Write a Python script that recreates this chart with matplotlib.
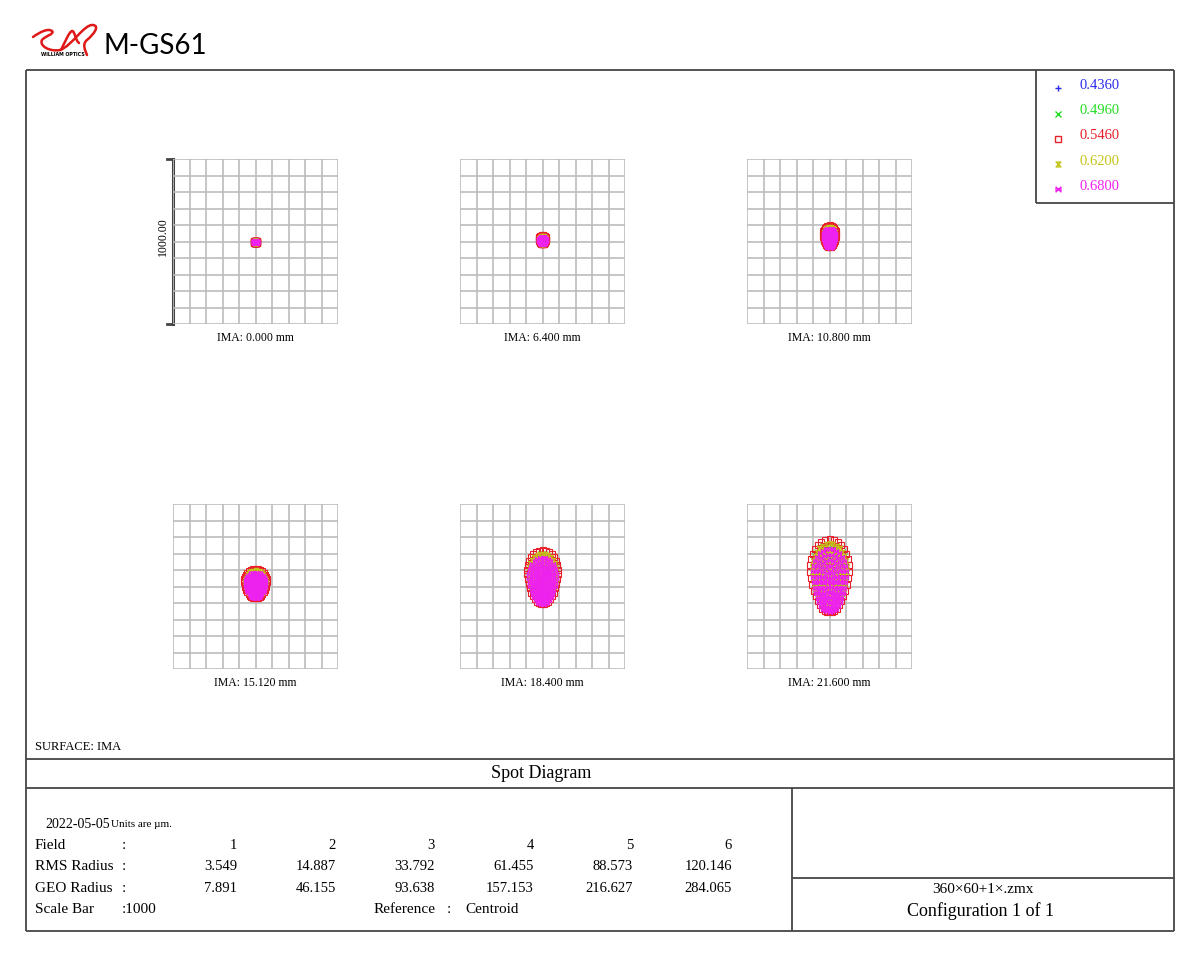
import matplotlib
matplotlib.use('Agg')
import matplotlib.pyplot as plt
import numpy as np
from matplotlib.path import Path
import matplotlib.patches as mpatches

# ---------------- data ----------------
field_labels = ["IMA: 0.000 mm", "IMA: 6.400 mm", "IMA: 10.800 mm",
                "IMA: 15.120 mm", "IMA: 18.400 mm", "IMA: 21.600 mm"]
field_numbers = ["1", "2", "3", "4", "5", "6"]
rms_radius = ["3.549", "14.887", "33.792", "61.455", "88.573", "120.146"]
geo_radius = ["7.891", "46.155", "93.638", "157.153", "216.627", "284.065"]
wavelengths = ["0.4360", "0.4960", "0.5460", "0.6200", "0.6800"]
wave_colors = ["#2b2bea", "#22dd22", "#e8202a", "#c4c41a", "#ee22ee"]

# spot envelopes (micrometres, y up, relative to chief ray)
spot_top = [9, 40, 100, 108, 221, 288]
spot_bottom = [-9, -14, -33, -70, -106, -155]
spot_halfwidth = [9, 22, 39, 69, 94, 117]
# relative size / vertical shift of each wavelength's spot
wave_scale = [0.80, 0.90, 1.00, 0.89, 0.86]
wave_shift = [0.00, 0.02, 0.00, 0.015, -0.04]

scale_bar_um = 1000

W, H = 1200, 955
fig = plt.figure(figsize=(12, 9.55), dpi=100)
bg = fig.add_axes([0, 0, 1, 1])
bg.set_xlim(0, W)
bg.set_ylim(H, 0)
bg.axis('off')

SERIF = ['Liberation Serif', 'DejaVu Serif']
FRAME = '#454545'

def hline(y, x0, x1, lw=1.3):
    bg.plot([x0, x1], [y, y], color=FRAME, lw=lw, solid_capstyle='butt')

def vline(x, y0, y1, lw=1.3):
    bg.plot([x, x], [y0, y1], color=FRAME, lw=lw, solid_capstyle='butt')

# outer frame
hline(70, 26, 1174); hline(931, 26, 1174)
vline(26, 70, 931); vline(1174, 70, 931)
# legend box
vline(1036, 70, 203); hline(203, 1036, 1174)
# bottom table
hline(759, 26, 1174); hline(788, 26, 1174)
vline(792, 788, 931); hline(878, 792, 1174)

# ---------------- header logo ----------------
def curve(verts):
    codes = [Path.MOVETO] + [Path.CURVE4] * (len(verts) - 1)
    return Path(verts, codes)

red = '#e01818'
logo_paths = [
    [(33, 37), (40, 32), (48, 28), (52, 31), (55, 34), (45, 36), (42, 40),
     (39, 46), (50, 52), (60, 50), (72, 46), (84, 24), (93, 25),
     (100, 26), (94, 34), (87, 40), (82, 44), (85, 50), (87, 55)],
    [(61, 50), (65, 42), (69, 32), (72, 31), (75, 31), (75, 40), (79, 43)],
]
for v in logo_paths:
    bg.add_patch(mpatches.PathPatch(curve(v), fill=False, edgecolor=red, lw=1.8,
                                    capstyle='round'))
bg.text(62.5, 54.5, "WILLIAM OPTICS", fontsize=3.4, fontweight='bold',
        ha='center', va='center', color='black', family='DejaVu Sans')
bg.text(104, 46, "M-GS61", fontsize=20, ha='left', va='center', color='black',
        family=['Lato', 'DejaVu Sans'])

# ---------------- spot plots ----------------
grid_x = [173, 460, 747, 173, 460, 747]
grid_y = [159.5, 159.5, 159.5, 504.3, 504.3, 504.3]
G = 165

# hexapolar pupil sampling (ray pattern)
rings = 6
pu, pv = [0.0], [0.0]
for k in range(1, rings + 1):
    n = 6 * k
    th = np.arange(n) * 2 * np.pi / n
    pu.extend((k / rings) * np.cos(th))
    pv.extend((k / rings) * np.sin(th))
pu = np.array(pu); pv = np.array(pv)

hourglass = Path([(-1, 1), (1, 1), (-1, -1), (1, -1), (-1, 1)],
                 [Path.MOVETO, Path.LINETO, Path.LINETO, Path.LINETO, Path.CLOSEPOLY])
bowtie = Path([(-1, -1), (-1, 1), (1, -1), (1, 1), (-1, -1)],
              [Path.MOVETO, Path.LINETO, Path.LINETO, Path.LINETO, Path.CLOSEPOLY])
wave_markers = ['+', 'x', 's', hourglass, bowtie]
wave_ms = [4.0, 3.2, 3.7, 3.0, 3.0]

for i in range(6):
    x0, y0 = grid_x[i], grid_y[i]
    ax = fig.add_axes([x0 / W, 1 - (y0 + G) / H, G / W, G / H])
    ax.set_xlim(-500, 500)
    ax.set_ylim(-500, 500)
    ticks = np.arange(-500, 501, 100)
    ax.vlines(ticks, -500, 500, color='#bcbcbc', lw=1.2, zorder=0)
    ax.hlines(ticks, -500, 500, color='#bcbcbc', lw=1.2, zorder=0)
    for s in ax.spines.values():
        s.set_visible(False)
    ax.set_xticks([]); ax.set_yticks([])
    ax.patch.set_alpha(0)

    top, bot, hw = spot_top[i], spot_bottom[i], spot_halfwidth[i]
    for w in range(5):
        sc = wave_scale[w]
        mid = (top + bot) / 2
        half = (top - bot) / 2
        vv = ((pv + 1) / 2) ** 1.1 * 2 - 1
        yy = (mid + half * vv) * sc + wave_shift[w] * (top - bot)
        xx = hw * sc * pu * (0.78 + 0.22 * pv) / 0.81
        ax.plot(xx, yy, ls='none', marker=wave_markers[w], ms=wave_ms[w],
                mec=wave_colors[w], mfc='none', mew=0.8, zorder=2 + w, clip_on=False)

    label_y = y0 + G + 13.5
    bg.text(x0 + G / 2, label_y, field_labels[i], fontsize=8.5, ha='center',
            va='center', family=SERIF)

# scale bar
sx, sy0, sy1 = 173, grid_y[0], grid_y[0] + G
bg.plot([sx, sx], [sy0, sy1], color='#444444', lw=2.2)
bg.plot([167, sx], [sy0, sy0], color='#444444', lw=2)
bg.plot([167, sx], [sy1, sy1], color='#444444', lw=2)
bg.text(162.5, (sy0 + sy1) / 2 - 5, f"{scale_bar_um:.2f}", rotation=90, fontsize=8.5,
        ha='center', va='center', family=SERIF)

# ---------------- legend ----------------
for w in range(5):
    ly = 87.5 + 25.2 * w
    bg.plot([1058], [ly + 1], ls='none', marker=wave_markers[w], ms=wave_ms[w] + 0.5,
            mec=wave_colors[w], mfc='none', mew=1.0)
    bg.text(1079, ly - 2, wavelengths[w], fontsize=10.5, color=wave_colors[w],
            ha='left', va='center', family=SERIF)

# ---------------- text blocks ----------------
bg.text(35, 747, "SURFACE: IMA", fontsize=9, ha='left', va='center', family=SERIF)
bg.text(541, 773, "Spot Diagram", fontsize=13, ha='center', va='center', family=SERIF)

bg.text(45, 824, "2022-05-05", fontsize=10, ha='left', va='center', family=SERIF)
bg.text(111, 824, "Units are µm.", fontsize=8, ha='left', va='center', family=SERIF)

row_y = [845, 866, 888, 909]
bg.text(35, row_y[0], "Field", fontsize=11, ha='left', va='center', family=SERIF)
bg.text(122, row_y[0], ":", fontsize=11, ha='left', va='center', family=SERIF)
bg.text(35, row_y[1], "RMS Radius", fontsize=11, ha='left', va='center', family=SERIF)
bg.text(122, row_y[1], ":", fontsize=11, ha='left', va='center', family=SERIF)
bg.text(35, row_y[2], "GEO Radius", fontsize=11, ha='left', va='center', family=SERIF)
bg.text(122, row_y[2], ":", fontsize=11, ha='left', va='center', family=SERIF)
bg.text(35, row_y[3], "Scale Bar", fontsize=11, ha='left', va='center', family=SERIF)
bg.text(122, row_y[3], f":{scale_bar_um}", fontsize=11, ha='left', va='center', family=SERIF)
bg.text(374, row_y[3], "Reference", fontsize=11, ha='left', va='center', family=SERIF)
bg.text(447, row_y[3], ":", fontsize=11, ha='left', va='center', family=SERIF)
bg.text(465, row_y[3], "Centroid", fontsize=11, ha='left', va='center', family=SERIF)

col_x = [237, 336, 435, 534, 633, 732]
for j in range(6):
    bg.text(col_x[j], row_y[0], field_numbers[j], fontsize=10.5, ha='right', va='center', family=SERIF)
    bg.text(col_x[j], row_y[1], rms_radius[j], fontsize=10.5, ha='right', va='center', family=SERIF)
    bg.text(col_x[j], row_y[2], geo_radius[j], fontsize=10.5, ha='right', va='center', family=SERIF)

bg.text(983, 889, "360×60+1×.zmx", fontsize=11, ha='center', va='center', family=SERIF)
bg.text(981, 911, "Configuration 1 of 1", fontsize=13, ha='center', va='center', family=SERIF)

fig.savefig('out.png', dpi=100, facecolor='white')
